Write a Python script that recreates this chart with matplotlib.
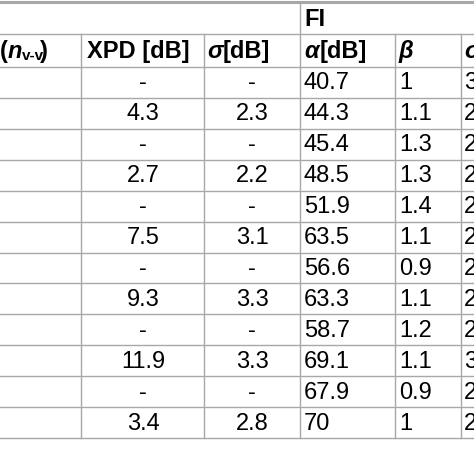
import matplotlib
matplotlib.use("Agg")
import matplotlib.pyplot as plt

xpd = ["-", "4.3", "-", "2.7", "-", "7.5", "-", "9.3", "-", "11.9", "-", "3.4"]
sigma = ["-", "2.3", "-", "2.2", "-", "3.1", "-", "3.3", "-", "3.3", "-", "2.8"]
alpha = ["40.7", "44.3", "45.4", "48.5", "51.9", "63.5", "56.6", "63.3", "58.7", "69.1", "67.9", "70"]
beta = ["1", "1.1", "1.3", "1.3", "1.4", "1.1", "0.9", "1.1", "1.2", "1.1", "0.9", "1"]
sig_fi = ["3", "2", "2", "2", "2", "2", "2", "2", "2", "3", "2", "2"]

plt.rcParams['font.family'] = ['Liberation Sans', 'DejaVu Sans']
fig = plt.figure(figsize=(4.74, 4.74), dpi=100)
ax = fig.add_axes([0, 0, 1, 1])
ax.set_xlim(0, 474); ax.set_ylim(474, 0); ax.axis('off')
lc = '#a8a8a8'
fs = 17
top, h1, h2 = 2, 34, 67
rh = (438 - 67) / 12
ax.plot([0, 474], [top, top], color=lc, lw=2.2)
ax.plot([0, 474], [h1, h1], color=lc, lw=1)
for i in range(13):
    y = h2 + i * rh
    ax.plot([0, 474], [y, y], color=lc, lw=1)
for x, y0 in [(81, h1), (204, h1), (300, top), (395, h1), (461, h1)]:
    ax.plot([x, x], [y0, 438], color=lc, lw=1)

ax.text(304, (top + h1) / 2 + 1, "FI", fontsize=fs, weight='bold', va='center')
yh = (h1 + h2) / 2 + 1
ax.text(0, yh, "(", fontsize=fs, weight='bold', va='center')
ax.text(8, yh, "n", fontsize=fs, weight='bold', style='italic', va='center')
ax.text(22, yh + 4, "v-v", fontsize=11, weight='bold', va='center')
ax.text(40, yh, ")", fontsize=fs, weight='bold', va='center')
ax.text(87, yh, "XPD [dB]", fontsize=fs, weight='bold', va='center')
ax.text(207, yh, "σ", fontsize=fs, weight='bold', style='italic', va='center')
ax.text(223, yh, "[dB]", fontsize=fs, weight='bold', va='center')
ax.text(304, yh, "α", fontsize=fs, weight='bold', style='italic', va='center')
ax.text(320, yh, "[dB]", fontsize=fs, weight='bold', va='center')
ax.text(399, yh, "β", fontsize=fs, weight='bold', style='italic', va='center')
ax.text(464, yh, "σ", fontsize=fs, weight='bold', style='italic', va='center')

for i in range(12):
    y = h2 + (i + 0.5) * rh + 1
    ax.text(143, y, xpd[i], fontsize=fs, ha='center', va='center')
    ax.text(252, y, sigma[i], fontsize=fs, ha='center', va='center')
    ax.text(304, y, alpha[i], fontsize=fs, va='center')
    ax.text(399, y, beta[i], fontsize=fs, va='center')
    ax.text(464, y, sig_fi[i], fontsize=fs, va='center')

fig.savefig("out.png", dpi=100, facecolor='white')
